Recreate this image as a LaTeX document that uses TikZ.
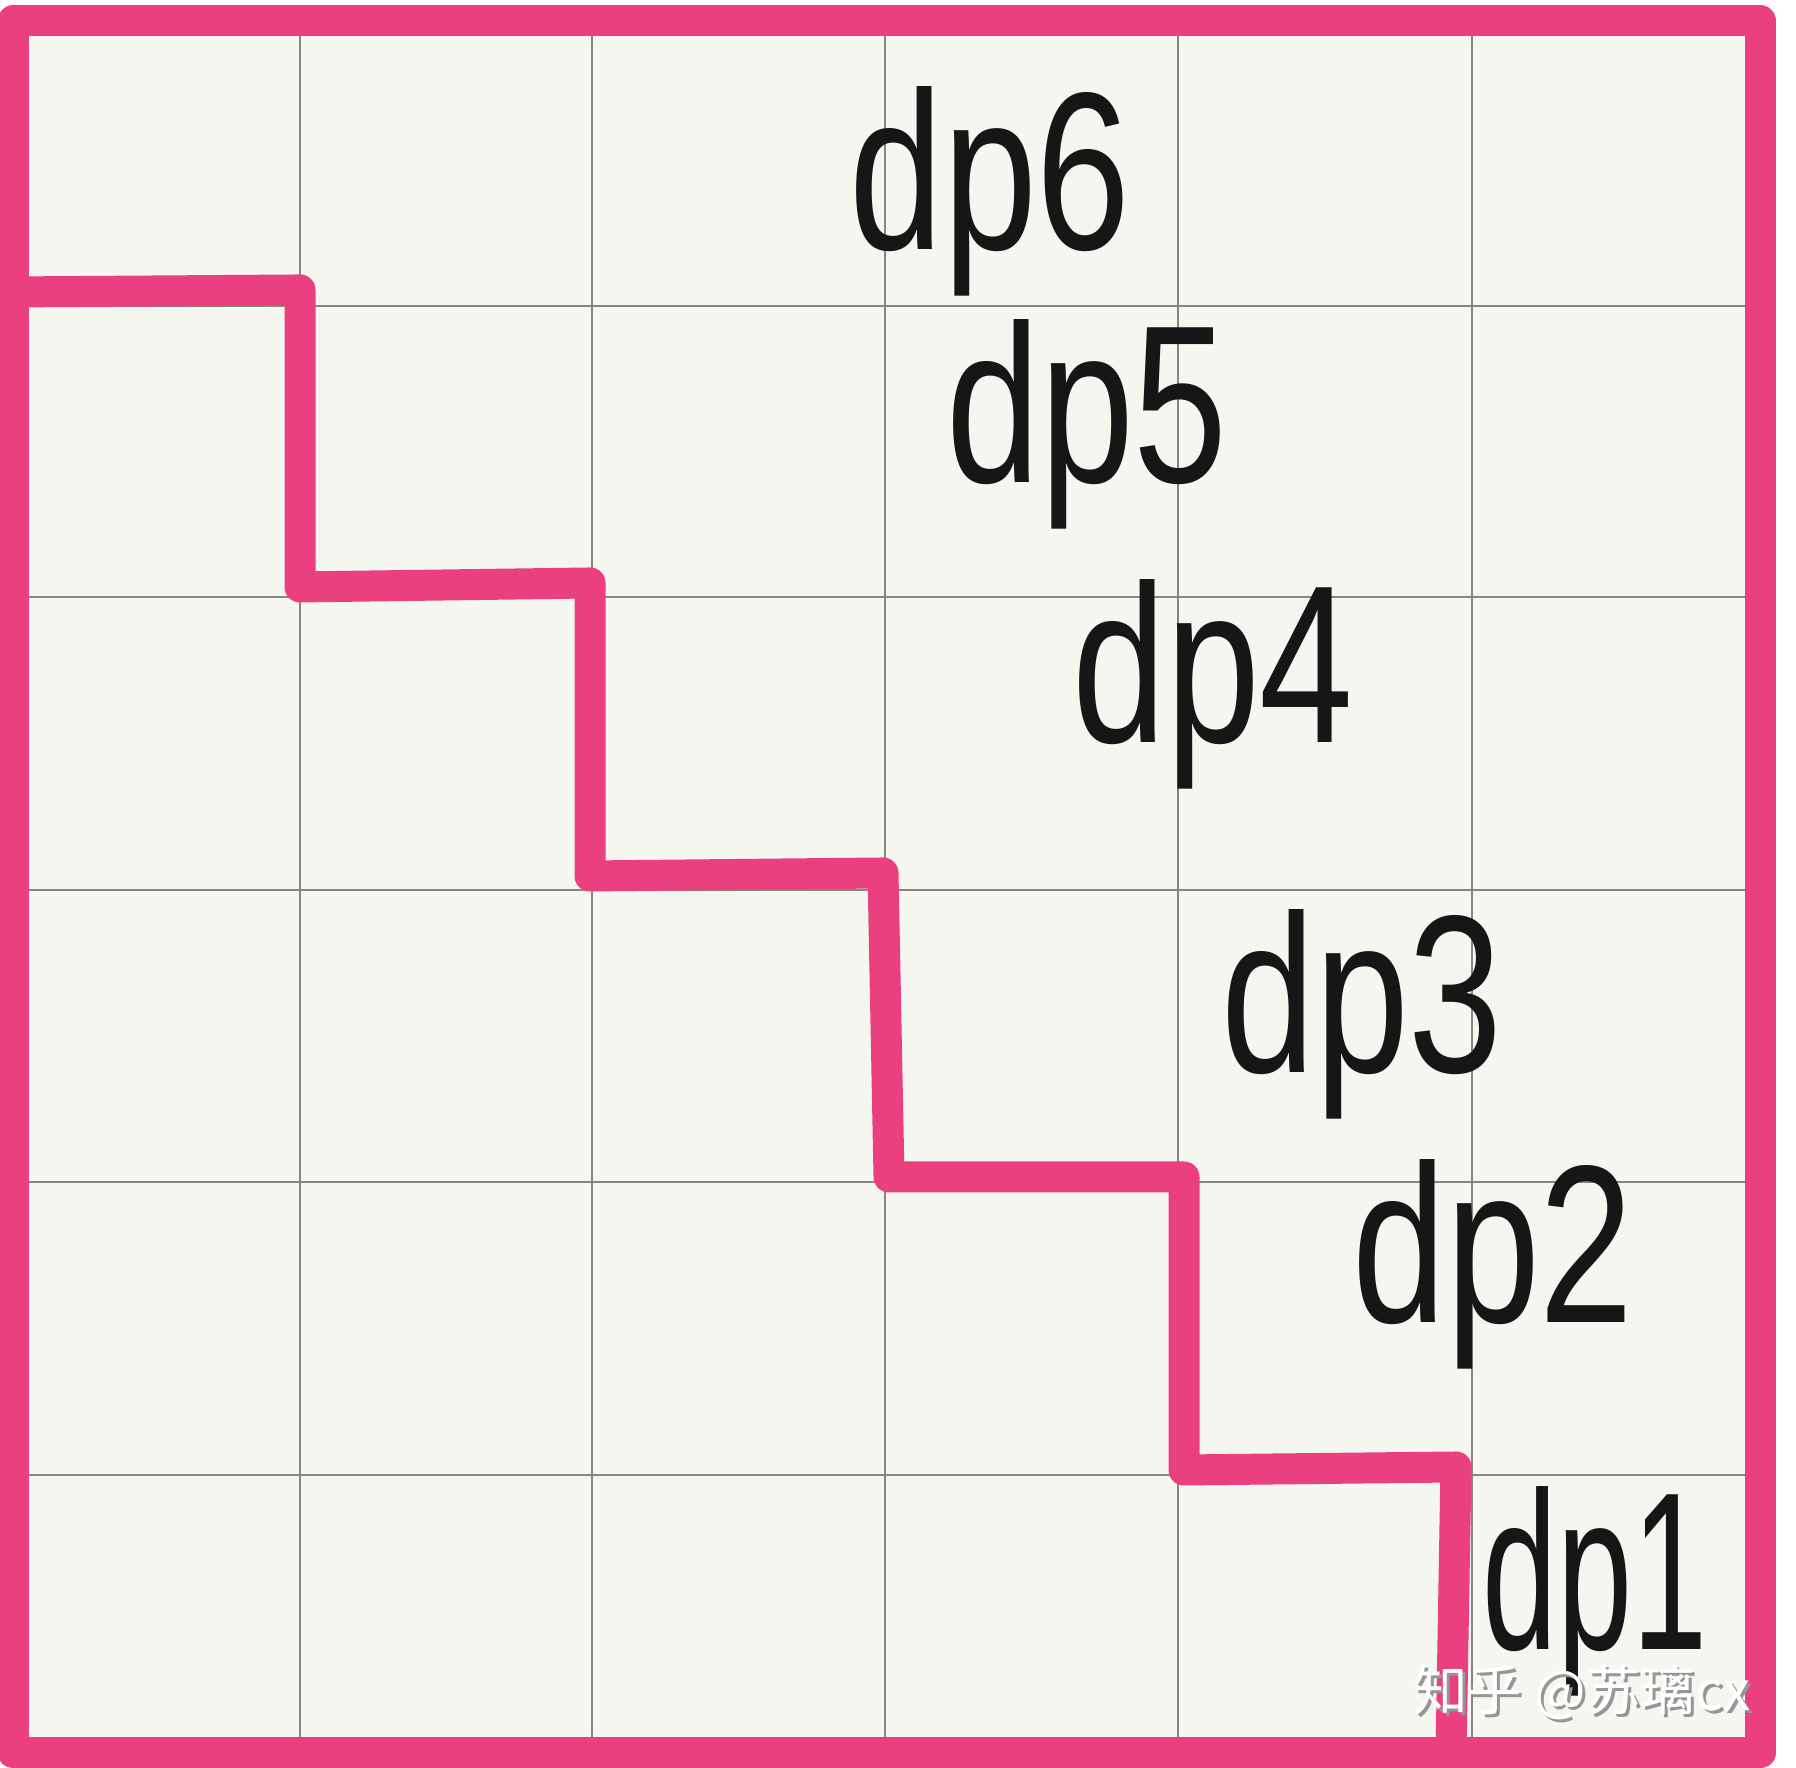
\documentclass[tikz,border=0pt]{standalone}
\usepackage{fontspec}
\usepackage{graphicx}
\setmainfont{Liberation Sans}
\newfontfamily\cjkfont{Noto Sans CJK SC}
\usetikzlibrary{calc}
\definecolor{paper}{RGB}{245,246,240}
\definecolor{stairpink}{RGB}{234,64,128}
\definecolor{gridgray}{RGB}{135,135,130}
\definecolor{shadowgray}{RGB}{150,150,150}
\definecolor{inkblack}{RGB}{22,22,22}
\tikzset{
  gridline/.style={line width=0.025cm,gridgray},
  stairline/.style={line width=0.31cm,stairpink,line join=round,line cap=round},
  dplabel/.style={anchor=base,inner sep=0pt,text=inkblack,font=\fontsize{64}{64}\selectfont},
  wmark/.style={anchor=base,inner sep=0pt,font=\cjkfont\fontsize{15.5}{15.5}\selectfont},
}
\newcommand{\hand}[2][0.75]{\scalebox{#1}[1]{#2}}

\begin{document}
\begin{tikzpicture}
  \useasboundingbox (0,0) rectangle (17.96,17.68);
  \fill[white] (0,0) rectangle (17.96,17.68);
  \fill[paper] (0.13,0.15) rectangle (17.60,17.47);
  % grid of the table
  \foreach \x in {3.00,5.92,8.85,11.78,14.72}
    \draw[gridline] (\x,0.15) -- (\x,17.47);
  \foreach \y in {2.93,5.86,8.78,11.71,14.62}
    \draw[gridline] (0.13,\y) -- (17.60,\y);
  % outer frame
  \draw[stairline] (0.13,0.15) rectangle (17.60,17.47);
  % staircase
  \draw[stairline] (0.13,14.76) -- (3.00,14.78) -- (3.00,11.81)
    -- (5.90,11.85) -- (5.90,8.92) -- (8.83,8.95) -- (8.89,5.91)
    -- (11.84,5.91) -- (11.84,2.98) -- (14.56,3.01) -- (14.51,0.15);
  % labels
  \node[dplabel] (dp6) at (9.90,15.18) {\hand{dp6}};
  \node[dplabel] (dp5) at (10.87,12.85) {\hand{dp5}};
  \node[dplabel] (dp4) at (12.13,10.25) {\hand{dp4}};
  \node[dplabel] (dp3) at (13.62,6.95) {\hand{dp3}};
  \node[dplabel] (dp2) at (14.93,4.45) {\hand{dp2}};
  \node[dplabel] (dp1) at (15.95,1.18) {\hand[0.6]{dp1}};
  % watermark
  \node[wmark,text=shadowgray] (wmshadow) at (15.85,0.54) {知乎 @苏璃cx};
  \node[wmark,text=white] (wm) at (15.82,0.57) {知乎 @苏璃cx};
\end{tikzpicture}
\end{document}
